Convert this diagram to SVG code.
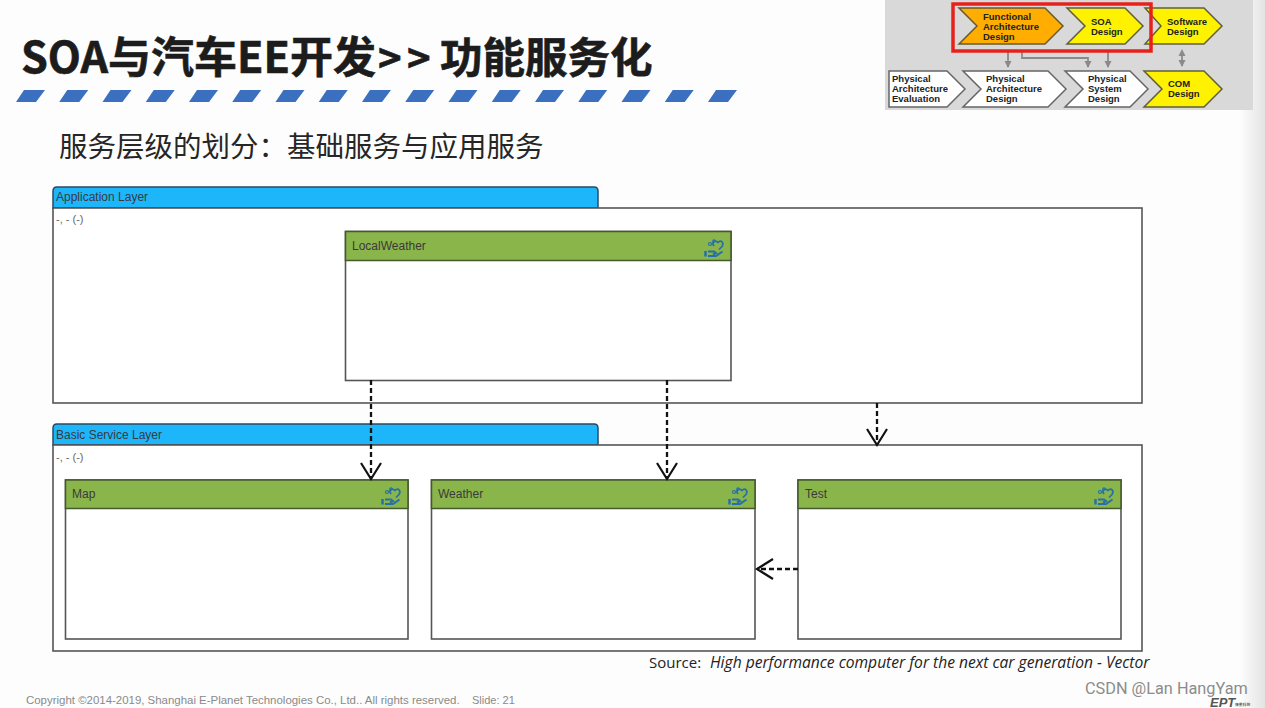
<svg xmlns="http://www.w3.org/2000/svg" xmlns:xlink="http://www.w3.org/1999/xlink" width="1265" height="708" viewBox="0 0 1265 708">
<style>
.cjk{font-family:"Noto Sans CJK SC","Liberation Sans",sans-serif}
.ttl{font-weight:700;fill:#1c1c1c;stroke:#1c1c1c;stroke-width:.6}
.lay{fill:#fff;stroke:#555;stroke-width:1.6}
.tab{fill:#1eb6fb;stroke:#2a4a63;stroke-width:1.5}
.hdr{fill:#8ab54a;stroke:#445a2e;stroke-width:1.5}
.box{fill:#fff;stroke:#555;stroke-width:1.6}
.lbl{font:12px "Liberation Sans",Arial,sans-serif;fill:#3a3a3a}
.sub{font:11px "Liberation Sans",Arial,sans-serif;fill:#666}
.dash{fill:none;stroke:#111;stroke-width:2.300;stroke-dasharray:5 3}
.th{font:bold 9.5px "Liberation Sans",Arial,sans-serif;fill:#222}
.cw{fill:#fff;stroke:#666;stroke-width:1.5}
.cy{fill:#fff200;stroke:#5f5f3c;stroke-width:1.5}
.gar{fill:none;stroke:#8a8a8a;stroke-width:1.8}
.stripe{fill:#3b6fc0}
</style>
<defs>
<linearGradient id="edge" x1="0" x2="1" y1="0" y2="0"><stop offset="0" stop-color="#fdfdfd"/><stop offset="1" stop-color="#e3e3e3"/></linearGradient>
<marker id="open" markerWidth="24" markerHeight="24" refX="20" refY="12" orient="auto" markerUnits="userSpaceOnUse"><path d="M4 2 L20 12 L4 22" fill="none" stroke="#111" stroke-width="2.200"/></marker>
<marker id="ga" markerWidth="8" markerHeight="8" refX="6" refY="4" orient="auto" markerUnits="userSpaceOnUse"><path d="M0 0.5 L7 4 L0 7.500Z" fill="#8a8a8a"/></marker>
<marker id="gs" markerWidth="8" markerHeight="8" refX="2" refY="4" orient="auto" markerUnits="userSpaceOnUse"><path d="M7 0.5 L0 4 L7 7.500Z" fill="#8a8a8a"/></marker>
<g id="svc" fill="none" stroke="#2470ad" stroke-width="2">
<path d="M-8.500 3v5.500" stroke-width="2.500"/>
<path d="M-6 3.500h6l2 1.500-3 1.500M-6 8h8l6.500-4.500"/>
<path d="M0 -2c-3-4 1-6.500 4-3.500 3-3 6.500 0 4 4l-3 3" stroke-width="1.700"/>
<circle cx="-4" cy="-4" r="1.500" stroke-width="1.200"/>
<circle cx="0" cy="-7" r="1.200" stroke-width="1.200"/>
</g>
</defs>
<rect width="1265" height="708" fill="#fdfdfd"/>
<rect x="1240" width="25" height="708" fill="url(#edge)"/>

<g id="title">
<text class="cjk ttl" x="21" y="73" font-size="43">SOA与汽车EE开发</text>
<text class="cjk ttl" x="378" y="73" font-size="40">&gt;</text>
<text class="cjk ttl" x="407" y="73" font-size="40">&gt;</text>
<text class="cjk ttl" x="440" y="73" font-size="42.500">功能服务化</text>
<g id="stripes">
<path class="stripe" d="M24 90h21l-9 12h-20z"/><path class="stripe" d="M67.250 90h21l-9 12h-20z"/><path class="stripe" d="M110.500 90h21l-9 12h-20z"/><path class="stripe" d="M153.750 90h21l-9 12h-20z"/><path class="stripe" d="M197 90h21l-9 12h-20z"/><path class="stripe" d="M240.250 90h21l-9 12h-20z"/><path class="stripe" d="M283.500 90h21l-9 12h-20z"/><path class="stripe" d="M326.750 90h21l-9 12h-20z"/><path class="stripe" d="M370 90h21l-9 12h-20z"/><path class="stripe" d="M413.250 90h21l-9 12h-20z"/><path class="stripe" d="M456.500 90h21l-9 12h-20z"/><path class="stripe" d="M499.750 90h21l-9 12h-20z"/><path class="stripe" d="M543 90h21l-9 12h-20z"/><path class="stripe" d="M586.250 90h21l-9 12h-20z"/><path class="stripe" d="M629.500 90h21l-9 12h-20z"/><path class="stripe" d="M672.750 90h21l-9 12h-20z"/><path class="stripe" d="M716 90h21l-9 12h-20z"/>
</g>
<text class="cjk" x="59" y="157" font-size="28.500" fill="#262626">服务层级的划分：基础服务与应用服务</text>
</g>

<g id="thumbnail">
<rect x="885" y="0" width="368" height="110" fill="#d9d9d9"/>
<g id="ch-fad"><path d="M959 8H1045L1063 26 1045 44H959L977 26Z" fill="#ffad00" stroke="#6b5a2a" stroke-width="1.500"/>
<text class="th" x="983" y="20">Functional</text><text class="th" x="983" y="30">Architecture</text><text class="th" x="983" y="40">Design</text></g>
<g id="ch-soa"><path class="cy" d="M1067 8H1125L1143 26 1125 44H1067L1085 26Z"/>
<text class="th" x="1091" y="25">SOA</text><text class="th" x="1091" y="35">Design</text></g>
<g id="ch-sw"><path class="cy" d="M1145 8H1204L1222 26 1204 44H1145L1161 26Z"/>
<text class="th" x="1167" y="25">Software</text><text class="th" x="1167" y="35">Design</text></g>
<g id="ch-pae"><path class="cw" d="M889 71H947L965 89 947 107H889Z"/>
<text class="th" x="892" y="82">Physical</text><text class="th" x="892" y="92">Architecture</text><text class="th" x="892" y="102">Evaluation</text></g>
<g id="ch-pad"><path class="cw" d="M963 71H1048L1066 89 1048 107H963L981 89Z"/>
<text class="th" x="986" y="82">Physical</text><text class="th" x="986" y="92">Architecture</text><text class="th" x="986" y="102">Design</text></g>
<g id="ch-psd"><path class="cw" d="M1065 71H1130L1148 89 1130 107H1065L1083 89Z"/>
<text class="th" x="1088" y="82">Physical</text><text class="th" x="1088" y="92">System</text><text class="th" x="1088" y="102">Design</text></g>
<g id="ch-com"><path class="cy" d="M1144 71H1204L1222 89 1204 107H1144L1162 89Z"/>
<text class="th" x="1168" y="87">COM</text><text class="th" x="1168" y="97">Design</text></g>
<g id="thumb-links">
<path class="gar" d="M1008 52V67" marker-end="url(#ga)"/>
<path class="gar" d="M1022 52V58H1088V67" marker-end="url(#ga)"/>
<path class="gar" d="M1108 50V67" marker-end="url(#ga)"/>
<path class="gar" d="M1182 51V66" marker-start="url(#gs)" marker-end="url(#ga)"/>
</g>
<rect id="highlight" x="953" y="4" width="198" height="47" fill="none" stroke="#e8201c" stroke-width="3.500"/>
</g>

<g id="application-layer">
<path class="tab" d="M53 208V191q0-4 4-4H594q4 0 4 4V208Z"/>
<rect class="lay" x="53" y="208" width="1089" height="195"/>
<text class="lbl" x="56" y="201">Application Layer</text>
<text class="sub" x="56" y="223">-, - (-)</text>
</g>
<g id="local-weather">
<rect class="box" x="345.500" y="231.500" width="385.500" height="149"/>
<rect class="hdr" x="345.500" y="231.500" width="385.500" height="29"/>
<text class="lbl" x="352" y="250">LocalWeather</text>
<use xlink:href="#svc" href="#svc" x="714" y="248"/>
</g>

<g id="basic-service-layer">
<path class="tab" d="M53 445V428q0-4 4-4H594q4 0 4 4V445Z"/>
<rect class="lay" x="53" y="445" width="1089" height="206"/>
<text class="lbl" x="56" y="439">Basic Service Layer</text>
<text class="sub" x="56" y="461">-, - (-)</text>
</g>
<g id="map">
<rect class="box" x="65.500" y="480" width="342.500" height="159"/>
<rect class="hdr" x="65.500" y="480" width="342.500" height="28.500"/>
<text class="lbl" x="72" y="498">Map</text>
<use xlink:href="#svc" href="#svc" x="391" y="496"/>
</g>
<g id="weather">
<rect class="box" x="431.500" y="480" width="323.500" height="159"/>
<rect class="hdr" x="431.500" y="480" width="323.500" height="28.500"/>
<text class="lbl" x="438" y="498">Weather</text>
<use xlink:href="#svc" href="#svc" x="738" y="496"/>
</g>
<g id="test">
<rect class="box" x="798" y="480" width="323" height="159"/>
<rect class="hdr" x="798" y="480" width="323" height="28.500"/>
<text class="lbl" x="805" y="498">Test</text>
<use xlink:href="#svc" href="#svc" x="1104" y="496"/>
</g>

<g id="connectors">
<path class="dash" d="M371 380V479" marker-end="url(#open)"/>
<path class="dash" d="M667 380V479" marker-end="url(#open)"/>
<path class="dash" d="M877 403V445" marker-end="url(#open)"/>
<path class="dash" d="M798 569H757" marker-end="url(#open)"/>
</g>

<g id="footer">
<text x="649" y="668" font-family="Open Sans,Noto Sans,sans-serif" font-size="15" fill="#222">Source:</text>
<text x="710" y="668" font-family="Open Sans,Noto Sans,sans-serif" font-size="15.600" font-style="italic" fill="#222">High performance computer for the next car generation - Vector</text>
<text x="26" y="704" font-family="Liberation Sans,Arial,sans-serif" font-size="11.450" fill="#8a8a8a">Copyright ©2014-2019, Shanghai E-Planet Technologies Co., Ltd.. All rights reserved.</text>
<text x="472" y="704" font-family="Liberation Sans,Arial,sans-serif" font-size="11" fill="#8a8a8a">Slide: 21</text>
<text x="1085" y="694" font-family="Roboto,Liberation Sans,sans-serif" font-size="16.300" fill="#8c8c8c">CSDN @Lan HangYam</text>
<text x="1210" y="707" font-family="Liberation Sans,Arial,sans-serif" font-size="13" font-weight="700" font-style="italic" fill="#555">EPT</text>
<text class="cjk" x="1235" y="706" font-size="3.800" font-weight="700" fill="#666">怿星科技</text>
</g>
</svg>
